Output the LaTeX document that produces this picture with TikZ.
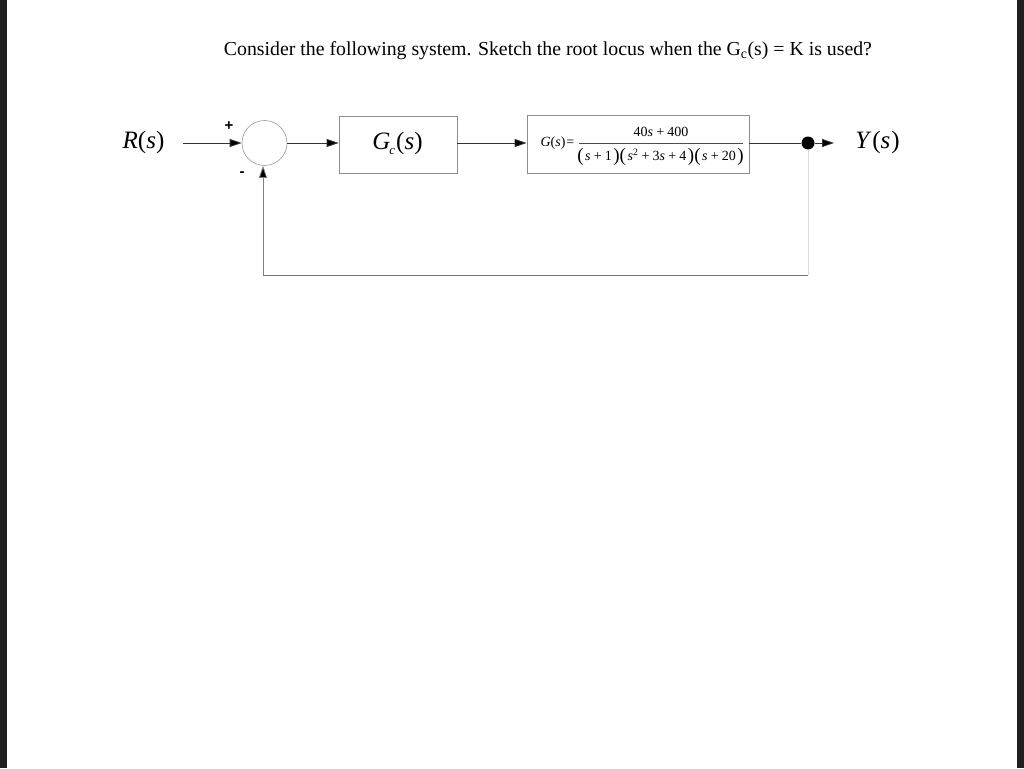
\documentclass[tikz,border=0pt]{standalone}
\usepackage{fontspec}
\setmainfont{Liberation Serif}
\setsansfont{Liberation Sans}
\usetikzlibrary{arrows.meta}
\newcommand{\pl}{\hspace{3.2pt}+\hspace{3.2pt}}
\newcommand{\lp}{{\fontsize{19}{19}\selectfont\raisebox{-0.6pt}{(}}\kern1.5pt}
\newcommand{\rp}{\kern1.5pt{\fontsize{19}{19}\selectfont\raisebox{-0.6pt}{)}}}
\tikzset{
  arr/.style={-{Triangle[length=12pt,width=8pt,fill=black]}, draw=black!80, line width=0.8pt},
  blk/.style={draw=black!45, line width=0.8pt, inner sep=0pt},
  sumnode/.style={circle, draw=black!40, line width=0.6pt, minimum size=45pt, inner sep=0pt},
  dotnode/.style={circle, fill=black, minimum size=13pt, inner sep=0pt},
  bigtxt/.style={font=\fontsize{25}{25}\selectfont, inner sep=0pt},
  smalltxt/.style={font=\fontsize{14}{14}\selectfont, inner sep=0pt},
}
\begin{document}
\begin{tikzpicture}[x=1pt,y=-1pt]
\useasboundingbox (0,0) rectangle (1024,768);
\fill[white] (0,0) rectangle (1024,768);
\fill[black!88] (0,0) rectangle (7,768);
\fill[black!88] (1017,0) rectangle (1024,768);

\node[inner sep=0pt, font=\fontsize{19.8}{20}\selectfont] (title) at (548,50.5)
  {Consider the following system. Sketch the root locus when the G\textsubscript{c}(s) = K is used?};

\node[bigtxt] (R) at (143.5,142) {\textit{R}(\textit{s})};
\coordinate (rin) at (183,143);
\node[sumnode] (sum) at (264.5,143) {};
\node[font=\sffamily\bfseries\fontsize{15}{15}\selectfont, inner sep=0pt] (plus) at (229,126) {+};
\node[font=\sffamily\bfseries\fontsize{15}{15}\selectfont, inner sep=0pt] (minus) at (242,174) {-};

\node[blk, minimum width=118pt, minimum height=57pt] (gc) at (398,144.5) {};
\node[bigtxt] (gctxt) at (397.5,143) {\textit{G}\kern-1pt\raisebox{-5pt}{\fontsize{13}{13}\selectfont\textit{c}}\kern1pt(\textit{s})};

\node[blk, minimum width=222pt, minimum height=58pt] (g) at (638,144) {};
\node[smalltxt] (glab) at (557.5,143) {\textit{G}(\textit{s})\kern1pt=};
\node[smalltxt] (num) at (661,132) {40\textit{s}\pl400};
\node[smalltxt] (den) at (660.5,157) {\lp\textit{s}\pl1\rp\lp\textit{s}\textsuperscript{2}\pl3\textit{s}\pl4\rp\lp\textit{s}\pl20\rp};
\draw[black!70, line width=0.6pt] (579,143) -- (743,143);

\node[dotnode] (d) at (808,143) {};
\coordinate (yend) at (834,143);
\node[bigtxt] (Y) at (877.5,142) {\textit{Y}\kern1pt(\textit{s}\kern1pt)};

\coordinate (fb1) at (808,275);
\coordinate (fb2) at (263,275);

\draw[arr] (rin) -- (sum.west);
\draw[arr] (sum.east) -- (gc.west |- sum.east);
\draw[arr] (gc.east |- sum.east) -- (g.west |- sum.east);
\draw[black!80, line width=0.8pt] (g.east |- d) -- (d);
\draw[arr] (d) -- (yend);
\draw[black!15, line width=0.8pt] (d) -- (fb1);
\draw[black!55, line width=0.8pt] (fb1) -- (fb2);
\draw[arr, draw=black!50] (fb2) -- (sum.south -| fb2);
\end{tikzpicture}
\end{document}
